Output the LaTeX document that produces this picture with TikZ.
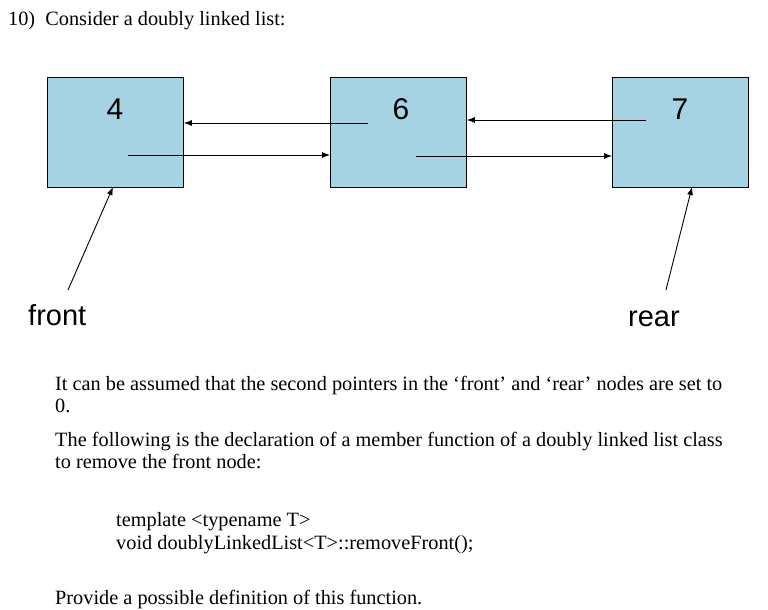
\documentclass[tikz,border=0pt]{standalone}
\usepackage{fontspec}
\usetikzlibrary{arrows.meta}
\setmainfont{Liberation Serif}
\newfontfamily\arial{Liberation Sans}
\begin{document}
\begin{tikzpicture}[x=1pt,y=-1pt,
  lbox/.style={draw=black,line width=0.8pt,minimum width=136pt,minimum height=110pt,anchor=north west},
  num/.style={font=\arial\fontsize{30}{32}\selectfont},
  lab/.style={font=\arial\fontsize{29}{32}\selectfont,anchor=base west,inner sep=0pt},
  ptr/.style={-{Latex[length=8pt,width=6pt]},line width=0.9pt},
  txt/.style={anchor=base west,inner sep=0pt,font=\fontsize{20.3}{22}\selectfont}]
\useasboundingbox (0,0) rectangle (768,610);
\definecolor{boxc}{HTML}{A6D3E3}
\node[lbox,fill=boxc] (b1) at (47,77) {};
\node[lbox,fill=boxc] (b2) at (330,77) {};
\node[lbox,fill=boxc] (b3) at (612,77) {};
\node[num] (n1) at (115,109) {4};
\node[num] (n2) at (401,109) {6};
\node[num] (n3) at (680,109) {7};
\coordinate (p1) at (368,123);
\coordinate (p2) at (646,120);
\coordinate (q1) at (128,155);
\coordinate (q2) at (416,156);
\draw[ptr] (p1) -- (b1.east |- p1);
\draw[ptr] (p2) -- (b2.east |- p2);
\draw[ptr] (q1) -- (b2.west |- q1);
\draw[ptr] (q2) -- (b3.west |- q2);
\node[lab] (front) at (28,325) {front};
\node[lab] (rear) at (628,326) {rear};
\coordinate (f0) at (68,290);
\coordinate (r0) at (666,290);
\draw[ptr] (f0) -- (113,187);
\draw[ptr] (r0) -- (692,187);
\node[txt] (t0) at (8,26) {10)\ \ Consider a doubly linked list:};
\node[txt] (t1) at (55,390) {It can be assumed that the second pointers in the ‘front’ and ‘rear’ nodes are set to};
\node[txt] (t2) at (55,412) {0.};
\node[txt] (t3) at (55,446) {The following is the declaration of a member function of a doubly linked list class};
\node[txt] (t4) at (55,468) {to remove the front node:};
\node[txt] (t5) at (116,526) {template <typename T>};
\node[txt] (t6) at (116,549) {void doublyLinkedList<T>::removeFront();};
\node[txt] (t7) at (55,604) {Provide a possible definition of this function.};
\end{tikzpicture}
\end{document}
